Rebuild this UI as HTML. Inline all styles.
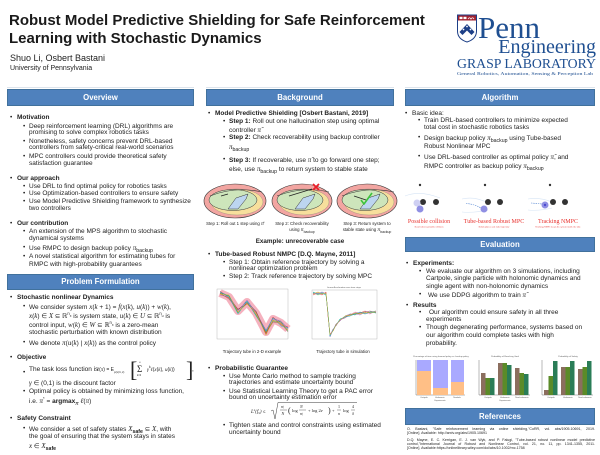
<!DOCTYPE html>
<html><head><meta charset="utf-8">
<style>
*{margin:0;padding:0;box-sizing:border-box}
html,body{width:600px;height:455px;overflow:hidden;background:#fff}
body{position:relative;font-family:"Liberation Sans",sans-serif;color:#222}
.t{position:absolute;white-space:nowrap;font-size:6.5px;line-height:8px}
.b{font-weight:bold}
.bar{position:absolute;background:#4f81bd;border:1px solid #41719c;color:#fff;font-weight:bold;font-size:7.8px;text-align:center}
i.m{font-family:"Liberation Serif",serif;font-style:italic;font-size:7px}
sub{font-size:80%;vertical-align:-2px;line-height:0}
sup{font-size:65%;vertical-align:3px;line-height:0}
.cap{position:absolute;white-space:nowrap;font-size:4.3px;line-height:5px;text-align:center}
.ref{position:absolute;left:407px;width:188px;font-size:3.6px;line-height:4px;text-align:justify;text-align-last:justify;white-space:nowrap}
svg{position:absolute;left:0;top:0}
</style></head><body>

<svg width="600" height="455" viewBox="0 0 600 455">
  <line x1="7" y1="87.5" x2="194" y2="87.5" stroke="#dde4ec" stroke-width="1"/>
  <line x1="206" y1="87.5" x2="394" y2="87.5" stroke="#dde4ec" stroke-width="1"/>
  <line x1="405" y1="87.5" x2="595" y2="87.5" stroke="#dde4ec" stroke-width="1"/>

  <!-- Penn shield -->
  <path d="M457.5,15 L476.5,15 L476.5,31 Q476.5,39 467,42 Q457.5,39 457.5,31 Z" fill="#fff" stroke="#1d3f87" stroke-width="1"/>
  <rect x="458" y="15.5" width="18" height="5" fill="#a3222f"/>
  <rect x="459.5" y="16.8" width="3" height="2.3" fill="#fff"/>
  <rect x="463.5" y="16.8" width="3" height="2.3" fill="#fff"/>
  <path d="M468,19 q1.5,-2.5 3,0 q1.5,-2.5 3,0" stroke="#fff" stroke-width=".8" fill="none"/>
  <path d="M459.5,32 L467,24 L474.5,32 L471.5,35 L467,30.5 L462.5,35 Z" fill="#1d3f87"/>
  <circle cx="463.5" cy="29.5" r=".9" fill="#fff"/>
  <circle cx="467" cy="26.5" r=".9" fill="#fff"/>
  <circle cx="470.5" cy="29.5" r=".9" fill="#fff"/>
  <text x="478" y="38" font-family="Liberation Serif, serif" font-size="31" fill="#1f4f91">Penn</text>
  <text x="596" y="53" font-family="Liberation Serif, serif" font-size="20" fill="#1f4f91" text-anchor="end">Engineering</text>
  <text x="457" y="68" font-family="Liberation Serif, serif" font-size="13.5" fill="#1f4f91" textLength="139" lengthAdjust="spacingAndGlyphs">GRASP LABORATORY</text>
  <text x="457" y="75" font-family="Liberation Serif, serif" font-size="4.2" fill="#1f4f91" textLength="136" lengthAdjust="spacingAndGlyphs">General Robotics, Automation, Sensing &amp; Perception Lab</text>

  <!-- MPS diagrams -->
  <g stroke-linejoin="round">
    <ellipse cx="235" cy="201" rx="31" ry="17" fill="#f2a5a1" stroke="#333" stroke-width=".6"/>
    <ellipse cx="237" cy="202" rx="26" ry="13" fill="#f7df9c" stroke="#777" stroke-width=".3"/>
    <ellipse cx="233" cy="200" rx="24" ry="10.5" fill="#cde5bb" stroke="#333" stroke-width=".5"/>
    <path d="M228,209 L236,198 L248,194 L246,199 L238,209 Z" fill="#bcd5f0" stroke="#333" stroke-width=".5"/>
    <path d="M210,196 Q235,186 262,192" stroke="#333" stroke-width=".6" fill="none"/>
    <line x1="221" y1="196" x2="228" y2="194" stroke="#222" stroke-width=".8"/>

    <ellipse cx="302" cy="201" rx="30" ry="17" fill="#f2a5a1" stroke="#333" stroke-width=".6"/>
    <ellipse cx="304" cy="202" rx="25" ry="13" fill="#f7df9c" stroke="#777" stroke-width=".3"/>
    <ellipse cx="300" cy="200" rx="23" ry="10.5" fill="#cde5bb" stroke="#333" stroke-width=".5"/>
    <path d="M295,209 L303,198 L315,194 L313,199 L305,209 Z" fill="#bcd5f0" stroke="#333" stroke-width=".5"/>
    <path d="M277,196 Q302,186 329,192" stroke="#333" stroke-width=".6" fill="none"/>
    <line x1="289" y1="196" x2="312" y2="189" stroke="#222" stroke-width=".8"/>
    <path d="M313,184 L319,190 M319,184 L313,190" stroke="#e8202a" stroke-width="1.8"/>

    <ellipse cx="367" cy="201" rx="30" ry="17" fill="#f2a5a1" stroke="#333" stroke-width=".6"/>
    <ellipse cx="369" cy="202" rx="25" ry="13" fill="#f7df9c" stroke="#777" stroke-width=".3"/>
    <ellipse cx="365" cy="200" rx="23" ry="10.5" fill="#cde5bb" stroke="#333" stroke-width=".5"/>
    <path d="M360,209 L368,198 L380,194 L378,199 L370,209 Z" fill="#bcd5f0" stroke="#333" stroke-width=".5"/>
    <path d="M342,196 Q367,186 394,192" stroke="#333" stroke-width=".6" fill="none"/>
    <line x1="354" y1="196" x2="366" y2="200" stroke="#222" stroke-width=".8"/>
    <path d="M361,200 L364,204 L372,193" stroke="#3cc43c" stroke-width="1.6" fill="none"/>
  </g>

  <!-- Plot 1 -->
  <rect x="217" y="289" width="71" height="50" fill="#fff" stroke="#aaa" stroke-width=".4"/>
  <polyline points="220,293 229,297 238,311 247,302 256,313 266,332 273,319 281,323 288,329" fill="none" stroke="#f3a3b3" stroke-width="8" stroke-linejoin="round" opacity=".85"/>
  <g fill="none" stroke-width=".45" stroke-linejoin="round">
    <polyline points="220,292 229,296 238,310 247,301 256,312 266,331 273,318 281,322 288,328" stroke="#1f77b4"/>
    <polyline points="220,294 229,298 238,312 247,303 256,314 266,333 273,320 281,324 288,330" stroke="#ff7f0e"/>
    <polyline points="220,293 229,296 238,313 247,302 256,315 266,332 273,321 281,322 288,331" stroke="#2ca02c"/>
    <polyline points="220,291 229,298 238,309 247,304 256,312 266,334 273,317 281,325 288,327" stroke="#d62728"/>
    <polyline points="220,295 229,297 238,311 247,300 256,313 266,330 273,319 281,321 288,329" stroke="#9467bd"/>
    <polyline points="220,293 229,299 238,310 247,303 256,311 266,333 273,322 281,323 288,332" stroke="#8c564b"/>
    <polyline points="220,292 229,297 238,314 247,301 256,316 266,331 273,318 281,326 288,328" stroke="#17becf"/>
    <polyline points="220,294 229,295 238,312 247,304 256,313 266,335 273,320 281,324 288,330" stroke="#bcbd22"/>
  </g>

  <!-- Plot 2 -->
  <rect x="312" y="290" width="65" height="49" fill="#fff" stroke="#aaa" stroke-width=".4"/>
  <text x="344" y="288" font-size="2.2" text-anchor="middle" fill="#555">Linear Acceleration over time steps</text>
  <g fill="none" stroke-width=".45" stroke-linejoin="round">
    <polyline points="313,293 318,294 322,292 326,294 328,314 330,336 333,330 336,325 340,320 345,317 350,315 355,314 360,313 365,312 370,313 376,312" stroke="#1f77b4"/>
    <polyline points="313,294 318,292 322,294 326,293 328,315 330,335 333,331 336,324 340,321 345,316 350,316 355,313 360,314 365,313 370,311 376,313" stroke="#ff7f0e"/>
    <polyline points="313,292 318,295 322,293 326,295 328,313 330,336 333,329 336,326 340,319 345,318 350,314 355,315 360,312 365,314 370,312 376,311" stroke="#2ca02c"/>
    <polyline points="313,295 318,293 322,295 326,292 328,316 330,334 333,331 336,325 340,320 345,317 350,315 355,313 360,313 365,311 370,313 376,312" stroke="#d62728"/>
    <polyline points="313,293 318,294 322,292 326,294 328,314 330,337 333,330 336,324 340,321 345,316 350,314 355,314 360,315 365,312 370,311 376,313" stroke="#9467bd"/>
    <polyline points="313,294 318,293 322,294 326,293 328,315 330,335 333,329 336,326 340,320 345,318 350,315 355,312 360,313 365,313 370,314 376,311" stroke="#e377c2"/>
    <polyline points="313,292 318,294 322,293 326,295 328,313 330,336 333,330 336,325 340,319 345,317 350,316 355,314 360,312 365,314 370,312 376,313" stroke="#17becf"/>
    <polyline points="313,294 318,292 322,294 326,293 328,314 330,335 333,331 336,325 340,320 345,316 350,315 355,313 360,314 365,312 370,313 376,312" stroke="#bcbd22"/>
  </g>

  <!-- formula -->
  <g font-family="Liberation Serif, serif" fill="#222">
    <text x="251" y="413" font-size="5" font-style="italic">L<tspan font-size="3" dy="-2">n</tspan><tspan dy="2">(f</tspan><tspan font-size="3" dy="1">S</tspan><tspan dy="-1">) ≤</tspan></text>
    <path d="M271,411 L273,410 L275,419 L278,402.5 L357,402.5" fill="none" stroke="#222" stroke-width=".45"/>
    <text x="281" y="408" font-size="4" font-style="italic">n<tspan font-size="2.6">f</tspan></text>
    <line x1="280" y1="410" x2="287" y2="410" stroke="#222" stroke-width=".35"/>
    <text x="281.5" y="415" font-size="4" font-style="italic">N</text>
    <text x="288" y="413" font-size="8">(</text>
    <text x="292" y="412" font-size="4.5">log</text>
    <text x="300" y="408" font-size="4" font-style="italic">N</text>
    <line x1="299" y1="410" x2="306" y2="410" stroke="#222" stroke-width=".35"/>
    <text x="300" y="415" font-size="4" font-style="italic">n<tspan font-size="2.6">f</tspan></text>
    <text x="308" y="412" font-size="4.5">+ log 2<tspan font-style="italic">e</tspan></text>
    <text x="328" y="413" font-size="8">)</text>
    <text x="332" y="412" font-size="4.5">+</text>
    <text x="338" y="408" font-size="4">1</text>
    <line x1="337" y1="410" x2="341" y2="410" stroke="#222" stroke-width=".35"/>
    <text x="338" y="415" font-size="4" font-style="italic">n</text>
    <text x="343" y="412" font-size="4.5">log</text>
    <text x="352" y="408" font-size="4">4</text>
    <line x1="351" y1="410" x2="355" y2="410" stroke="#222" stroke-width=".35"/>
    <text x="352" y="415" font-size="4" font-style="italic">δ</text>
  </g>

  <!-- Algorithm figures -->
  <g>
    <path d="M405,196 Q420,190 440,198" stroke="#d6e4f5" stroke-width=".6" fill="none"/>
    <circle cx="420" cy="185" r="1.2" fill="#333"/>
    <circle cx="423" cy="202" r="3" fill="#333"/>
    <circle cx="436" cy="202" r="3" fill="#333"/>
    <circle cx="417" cy="203" r="3.5" fill="#cfd0f3"/>
    <circle cx="420" cy="209" r="3.5" fill="#8f8fe3"/>

    <path d="M462,199 Q475,196 488,203" stroke="#d6e4f5" stroke-width=".6" fill="none"/>
    <path d="M462,212 Q475,213 488,210" stroke="#d6e4f5" stroke-width=".6" fill="none"/>
    <circle cx="485" cy="185" r="1.2" fill="#333"/>
    <circle cx="488" cy="202" r="3" fill="#333"/>
    <circle cx="500" cy="202" r="3" fill="#333"/>
    <path d="M466,203.5 Q474,204 481,208" stroke="#4a7fd0" stroke-width=".6" stroke-dasharray="1.4 .9" fill="none"/>
    <circle cx="484" cy="209" r="3.5" fill="#8f8fe3"/>

    <path d="M528,199 Q540,197 552,202" stroke="#d6e4f5" stroke-width=".6" fill="none"/>
    <path d="M528,210 Q540,211 552,208" stroke="#d6e4f5" stroke-width=".6" fill="none"/>
    <circle cx="550" cy="185" r="1.2" fill="#333"/>
    <circle cx="553" cy="202" r="3" fill="#333"/>
    <circle cx="565" cy="202" r="3" fill="#333"/>
    <path d="M531,203 L542,204" stroke="#4a7fd0" stroke-width=".6" stroke-dasharray="1.4 .9" fill="none"/>
    <circle cx="545" cy="205" r="3.5" fill="#8f8fe3"/>
    <circle cx="545" cy="205" r="1.2" fill="#4a4ad0"/>
  </g>
  <g font-family="Liberation Serif, serif" fill="#e8322e" text-anchor="middle">
    <text x="429" y="223" font-size="6">Possible collision</text>
    <text x="494" y="223" font-size="6">Tube-based Robust MPC</text>
    <text x="558" y="223" font-size="6">Tracking NMPC</text>
    <text x="429" y="227.5" font-size="2.3">Result shows possible collision</text>
    <text x="494" y="227.5" font-size="2.3">Robot plans a safe tube trajectory</text>
    <text x="558" y="227.5" font-size="2.3">Tracking NMPC keeps the system inside the tube</text>
  </g>

  <!-- Eval charts -->
  <g font-family="Liberation Sans, sans-serif" fill="#555" font-size="2.2" text-anchor="middle">
    <text x="441" y="357">Percentage of time using learned policy vs. backup policy</text>
    <text x="505" y="357">Probability of Reaching Goal</text>
    <text x="568" y="357">Probability of Safety</text>
  </g>
  <g stroke="#333" stroke-width=".35" fill="none">
    <path d="M416,360 L416,395 L465,395"/>
    <path d="M479,360 L479,395 L530,395"/>
    <path d="M542,360 L542,395 L593,395"/>
  </g>
  <g>
    <rect x="417" y="360" width="14" height="11" fill="#a9a9ff"/>
    <rect x="417" y="371" width="14" height="24" fill="#ffbf86"/>
    <rect x="433" y="360" width="15" height="28" fill="#a9a9ff"/>
    <rect x="433" y="388" width="15" height="7" fill="#ffbf86"/>
    <rect x="451" y="360" width="13" height="22" fill="#a9a9ff"/>
    <rect x="451" y="382" width="13" height="13" fill="#ffbf86"/>

    <rect x="481" y="373" width="4.5" height="22" fill="#8b6e5e"/>
    <rect x="485.5" y="378" width="4.5" height="17" fill="#5b8b28"/>
    <rect x="490" y="378" width="4.5" height="17" fill="#2a7d57"/>
    <rect x="498" y="363" width="4.5" height="32" fill="#8b6e5e"/>
    <rect x="502.5" y="363" width="4.5" height="32" fill="#5b8b28"/>
    <rect x="507" y="365" width="4.5" height="30" fill="#2a7d57"/>
    <rect x="515" y="368" width="4.5" height="27" fill="#8b6e5e"/>
    <rect x="519.5" y="373" width="4.5" height="22" fill="#5b8b28"/>
    <rect x="524" y="374" width="4.5" height="21" fill="#2a7d57"/>

    <rect x="544" y="390" width="4.5" height="5" fill="#8b6e5e"/>
    <rect x="548.5" y="376" width="4.5" height="19" fill="#5b8b28"/>
    <rect x="553" y="361" width="4.5" height="34" fill="#2a7d57"/>
    <rect x="561" y="367" width="4.5" height="28" fill="#8b6e5e"/>
    <rect x="565.5" y="367" width="4.5" height="28" fill="#5b8b28"/>
    <rect x="570" y="361" width="4.5" height="34" fill="#2a7d57"/>
    <rect x="578" y="369" width="4.5" height="26" fill="#8b6e5e"/>
    <rect x="582.5" y="367" width="4.5" height="28" fill="#5b8b28"/>
    <rect x="587" y="361" width="4.5" height="34" fill="#2a7d57"/>
  </g>
  <g font-family="Liberation Sans, sans-serif" fill="#555" font-size="2" text-anchor="middle">
    <text x="424" y="398">Cartpole</text><text x="440" y="398">Holonomic</text><text x="457" y="398">Nonholo</text>
    <text x="440" y="401">Experiments</text>
    <text x="488" y="398">Cartpole</text><text x="505" y="398">Holonomic</text><text x="522" y="398">Non-holonomic</text>
    <text x="505" y="401">Experiments</text>
    <text x="551" y="398">Cartpole</text><text x="568" y="398">Holonomic</text><text x="585" y="398">Non-holonomic</text>
  </g>
</svg>

<!-- Header -->
<div class="t b" style="left:9px;top:12px;font-size:15px;line-height:18px;color:#1a1a1a">Robust Model Predictive Shielding for Safe Reinforcement</div>
<div class="t b" style="left:9px;top:30px;font-size:15px;line-height:18px;color:#1a1a1a">Learning with Stochastic Dynamics</div>
<div class="t" style="left:10px;top:53px;font-size:9px;line-height:11px">Shuo Li, Osbert Bastani</div>
<div class="t" style="left:10px;top:64px;font-size:7px;line-height:9px">University of Pennsylvania</div>

<!-- Bars -->
<div class="bar" style="left:7px;top:89px;width:187px;height:17px;line-height:15px">Overview</div>
<div class="bar" style="left:7px;top:274px;width:187px;height:16px;line-height:14px">Problem Formulation</div>
<div class="bar" style="left:206px;top:89px;width:188px;height:17px;line-height:15px">Background</div>
<div class="bar" style="left:405px;top:89px;width:190px;height:17px;line-height:15px">Algorithm</div>
<div class="bar" style="left:405px;top:237px;width:190px;height:15px;line-height:13px">Evaluation</div>
<div class="bar" style="left:405px;top:408px;width:190px;height:17px;line-height:15px">References</div>

<!-- Overview -->
<div class="t" style="left:10px;top:113.5px">•</div><div class="t b" style="left:17px;top:113.5px">Motivation</div>
<div class="t" style="left:23px;top:122.5px">•</div><div class="t" style="left:29px;top:122.5px">Deep reinforcement learning (DRL) algorithms are</div>
<div class="t" style="left:29px;top:129px">promising to solve complex robotics tasks</div>
<div class="t" style="left:23px;top:137.5px">•</div><div class="t" style="left:29px;top:137.5px">Nonetheless, safety concerns prevent DRL-based</div>
<div class="t" style="left:29px;top:144px">controllers from safety-critical real-world scenarios</div>
<div class="t" style="left:23px;top:152.5px">•</div><div class="t" style="left:29px;top:152.5px">MPC controllers could provide theoretical safety</div>
<div class="t" style="left:29px;top:159.5px">satisfaction guarantee</div>
<div class="t" style="left:10px;top:174.5px">•</div><div class="t b" style="left:17px;top:174.5px">Our approach</div>
<div class="t" style="left:23px;top:182.5px">•</div><div class="t" style="left:29px;top:182.5px">Use DRL to find optimal policy for robotics tasks</div>
<div class="t" style="left:23px;top:190px">•</div><div class="t" style="left:29px;top:190px">Use Optimization-based controllers to ensure safety</div>
<div class="t" style="left:23px;top:197.5px">•</div><div class="t" style="left:29px;top:197.5px">Use Model Predictive Shielding framework to synthesize</div>
<div class="t" style="left:29px;top:204.5px">two controllers</div>
<div class="t" style="left:10px;top:219.5px">•</div><div class="t b" style="left:17px;top:219.5px">Our contribution</div>
<div class="t" style="left:23px;top:227.5px">•</div><div class="t" style="left:29px;top:227.5px">An extension of the MPS algorithm to stochastic</div>
<div class="t" style="left:29px;top:234.5px">dynamical systems</div>
<div class="t" style="left:23px;top:243.5px">•</div><div class="t" style="left:29px;top:243.5px">Use RMPC to design backup policy <i class="m">π</i><sub>backup</sub></div>
<div class="t" style="left:23px;top:252.5px">•</div><div class="t" style="left:29px;top:252.5px">A novel statistical algorithm for estimating tubes for</div>
<div class="t" style="left:29px;top:260.5px">RMPC with high-probability guarantees</div>

<!-- Problem Formulation -->
<div class="t" style="left:10px;top:293.5px">•</div><div class="t b" style="left:17px;top:293.5px">Stochastic nonlinear Dynamics</div>
<div class="t" style="left:23px;top:302.5px">•</div><div class="t" style="left:29px;top:302.5px">We consider system <i class="m">x</i>(<i class="m">k</i> + 1) = <i class="m">f</i>(<i class="m">x</i>(<i class="m">k</i>), <i class="m">u</i>(<i class="m">k</i>)) + <i class="m">w</i>(<i class="m">k</i>),</div>
<div class="t" style="left:29px;top:311.5px"><i class="m">x</i>(<i class="m">k</i>) ∈ <i class="m">X</i> ⊆ ℝ<sup>n<sub>x</sub></sup> is system state, <i class="m">u</i>(<i class="m">k</i>) ∈ <i class="m">U</i> ⊆ ℝ<sup>n<sub>u</sub></sup> is</div>
<div class="t" style="left:29px;top:320.5px">control input, <i class="m">w</i>(<i class="m">k</i>) ∈ <i class="m">W</i> ⊆ ℝ<sup>n<sub>x</sub></sup> is a zero-mean</div>
<div class="t" style="left:29px;top:328.5px">stochastic perturbation with known distribution</div>
<div class="t" style="left:23px;top:338.5px">•</div><div class="t" style="left:29px;top:338.5px">We denote <i class="m">π</i>(<i class="m">u</i>(<i class="m">k</i>) | <i class="m">x</i>(<i class="m">k</i>)) as the control policy</div>
<div class="t" style="left:10px;top:353.5px">•</div><div class="t b" style="left:17px;top:353.5px">Objective</div>
<div class="t" style="left:23px;top:368.5px">•</div><div class="t" style="left:29px;top:365.5px">The task loss function is</div>
<div class="t" style="left:97px;top:366px;font-size:5px"><i class="m" style="font-size:5px">ℓ</i>(<i class="m" style="font-size:5px">π</i>) = E<sub style="font-size:3px">p(x|π,c)</sub></div>
<div class="t" style="left:130px;top:358px;font-size:22px;line-height:24px;font-family:'Liberation Serif',serif;font-weight:normal">[</div>
<div class="t" style="left:137px;top:364px;font-size:9px;line-height:10px;font-family:'Liberation Serif',serif">Σ</div>
<div class="t" style="left:139px;top:361px;font-size:2.5px;line-height:3px">∞</div>
<div class="t" style="left:137px;top:374px;font-size:2.5px;line-height:3px">k=0</div>
<div class="t" style="left:147px;top:366px;font-size:5px"><i class="m" style="font-size:5px">γ</i><sup>k</sup><i class="m" style="font-size:5px">ℓ</i>(<i class="m" style="font-size:5px">x</i>(<i class="m" style="font-size:5px">k</i>), <i class="m" style="font-size:5px">u</i>(<i class="m" style="font-size:5px">k</i>))</div>
<div class="t" style="left:186px;top:358px;font-size:22px;line-height:24px;font-family:'Liberation Serif',serif">]</div>
<div class="t" style="left:192px;top:365.5px">,</div>
<div class="t" style="left:29px;top:378.5px"><i class="m">γ</i> ∈ (0,1) is the discount factor</div>
<div class="t" style="left:23px;top:387.5px">•</div><div class="t" style="left:29px;top:387.5px">Optimal policy is obtained by minimizing loss function,</div>
<div class="t" style="left:29px;top:396.5px">i.e. <i class="m">π</i><sup>*</sup> = <b>argmax</b><sub><i>π</i></sub> <i class="m">ℓ</i>(<i class="m">π</i>)</div>
<div class="t" style="left:10px;top:414.5px">•</div><div class="t b" style="left:17px;top:414.5px">Safety Constraint</div>
<div class="t" style="left:23px;top:424.5px">•</div><div class="t" style="left:29px;top:424.5px">We consider a set of safety states <i class="m">X</i><sub><b>safe</b></sub> ⊆ <i class="m">X</i>, with</div>
<div class="t" style="left:29px;top:432.5px">the goal of ensuring that the system stays in states</div>
<div class="t" style="left:29px;top:441.5px"><i class="m">x</i> ∈ <i class="m">X</i><sub><b>safe</b></sub></div>

<!-- Background -->
<div class="t" style="left:208px;top:109.5px">•</div><div class="t b" style="left:215px;top:109.5px">Model Predictive Shielding [Osbert Bastani, 2019]</div>
<div class="t" style="left:223px;top:117.5px">•</div><div class="t" style="left:229px;top:117.5px"><b>Step 1:</b> Roll out one hallucination step using optimal</div>
<div class="t" style="left:229px;top:125.5px">controller <i class="m">π̂</i></div>
<div class="t" style="left:223px;top:133.5px">•</div><div class="t" style="left:229px;top:133.5px"><b>Step 2:</b> Check recoverability using backup controller</div>
<div class="t" style="left:229px;top:142.5px"><i class="m">π</i><sub>backup</sub></div>
<div class="t" style="left:223px;top:155.5px">•</div><div class="t" style="left:229px;top:155.5px"><b>Step 3:</b> If recoverable, use <i class="m">π̂</i> to go forward one step;</div>
<div class="t" style="left:229px;top:164.5px">else, use <i class="m">π</i><sub>backup</sub> to return system to stable state</div>

<div class="cap" style="left:205px;width:60px;top:220.5px">Step 1: Roll out 1 step using <i>π̂</i></div>
<div class="cap" style="left:272px;width:60px;top:220.5px">Step 2: Check recoverability</div>
<div class="cap" style="left:272px;width:60px;top:226.5px">using <i>π</i><sub>backup</sub></div>
<div class="cap" style="left:337px;width:60px;top:220.5px">Step 3: Return system to</div>
<div class="cap" style="left:337px;width:60px;top:226.5px">stable state using <i>π</i><sub>backup</sub></div>
<div class="t b" style="left:250px;width:100px;top:238px;font-size:6.3px;text-align:center">Example: unrecoverable case</div>

<div class="t" style="left:208px;top:250.5px">•</div><div class="t b" style="left:215px;top:250.5px">Tube-based Robust NMPC [D.Q. Mayne, 2011]</div>
<div class="t" style="left:223px;top:258.5px">•</div><div class="t" style="left:229px;top:258.5px">Step 1: Obtain reference trajectory by solving a</div>
<div class="t" style="left:229px;top:265px">nonlinear optimization problem</div>
<div class="t" style="left:223px;top:272.5px">•</div><div class="t" style="left:229px;top:272.5px">Step 2: Track reference trajectory by solving MPC</div>
<div class="cap" style="left:217px;width:70px;top:348.5px">Trajectory tube in 2-D example</div>
<div class="cap" style="left:308px;width:70px;top:348.5px">Trajectory tube in simulation</div>

<div class="t" style="left:208px;top:364.5px">•</div><div class="t b" style="left:215px;top:364.5px">Probabilistic Guarantee</div>
<div class="t" style="left:223px;top:372.5px">•</div><div class="t" style="left:229px;top:372.5px">Use Monte Carlo method to sample tracking</div>
<div class="t" style="left:229px;top:379px">trajectories and estimate uncertainty bound</div>
<div class="t" style="left:223px;top:387.5px">•</div><div class="t" style="left:229px;top:387.5px">Use Statistical Learning Theory to get a PAC error</div>
<div class="t" style="left:229px;top:394px">bound on uncertainty estimation error</div>
<div class="t" style="left:223px;top:421.5px">•</div><div class="t" style="left:229px;top:421.5px">Tighten state and control constraints using estimated</div>
<div class="t" style="left:229px;top:428.5px">uncertainty bound</div>

<!-- Algorithm -->
<div class="t" style="left:405px;top:109.5px">•</div><div class="t" style="left:412px;top:109.5px">Basic idea:</div>
<div class="t" style="left:418px;top:116.5px">•</div><div class="t" style="left:424px;top:116.5px">Train DRL-based controllers to minimize expected</div>
<div class="t" style="left:424px;top:123.5px">total cost in stochastic robotics tasks</div>
<div class="t" style="left:418px;top:133.5px">•</div><div class="t" style="left:424px;top:133.5px">Design backup policy <i class="m">π</i><sub>backup</sub> using Tube-based</div>
<div class="t" style="left:424px;top:142.5px">Robust Nonlinear MPC</div>
<div class="t" style="left:418px;top:152.5px">•</div><div class="t" style="left:424px;top:152.5px">Use DRL-based controller as optimal policy <i class="m">π̂</i>, and</div>
<div class="t" style="left:424px;top:161.5px">RMPC controller as backup policy <i class="m">π</i><sub>backup</sub></div>

<!-- Evaluation -->
<div class="t" style="left:406px;top:259.5px">•</div><div class="t b" style="left:413px;top:259.5px">Experiments:</div>
<div class="t" style="left:419px;top:267.5px">•</div><div class="t" style="left:426px;top:267.5px">We evaluate our algorithm on 3 simulations, including</div>
<div class="t" style="left:426px;top:274.5px">Cartpole, single particle with holonomic dynamics and</div>
<div class="t" style="left:426px;top:282.5px">single agent with non-holonomic dynamics</div>
<div class="t" style="left:419px;top:290.5px">•</div><div class="t" style="left:428px;top:290.5px">We use DDPG algorithm to train <i class="m">π̂</i></div>
<div class="t" style="left:406px;top:301.5px">•</div><div class="t b" style="left:413px;top:301.5px">Results</div>
<div class="t" style="left:419px;top:308.5px">•</div><div class="t" style="left:429px;top:308.5px">Our algorithm could ensure safety in all three</div>
<div class="t" style="left:426px;top:315.5px">experiments</div>
<div class="t" style="left:419px;top:323.5px">•</div><div class="t" style="left:426px;top:323.5px">Though degenerating performance, systems based on</div>
<div class="t" style="left:426px;top:331.5px">our algorithm could complete tasks with high</div>
<div class="t" style="left:426px;top:339.5px">probability.</div>

<!-- References -->
<div class="ref" style="top:427px">O. Bastani, "Safe reinforcement learning via online shielding,"CoRR, vol. abs/1905.10691, 2019.</div>
<div class="ref" style="top:430.5px;text-align-last:left">[Online]. Available: http://arxiv.org/abs/1905.10691</div>
<div class="ref" style="top:438px">D.Q. Mayne, E. C. Kerrigan, E. J. van Wyk, and P. Falugi, "Tube-based robust nonlinear model predictive</div>
<div class="ref" style="top:442px">control,"International Journal of Robust and Nonlinear Control, vol. 21, no. 11, pp. 1341-1355, 2011.</div>
<div class="ref" style="top:446px;text-align-last:left">[Online]. Available:https://onlinelibrary.wiley.com/doi/abs/10.1002/rnc.1758</div>

</body></html>
